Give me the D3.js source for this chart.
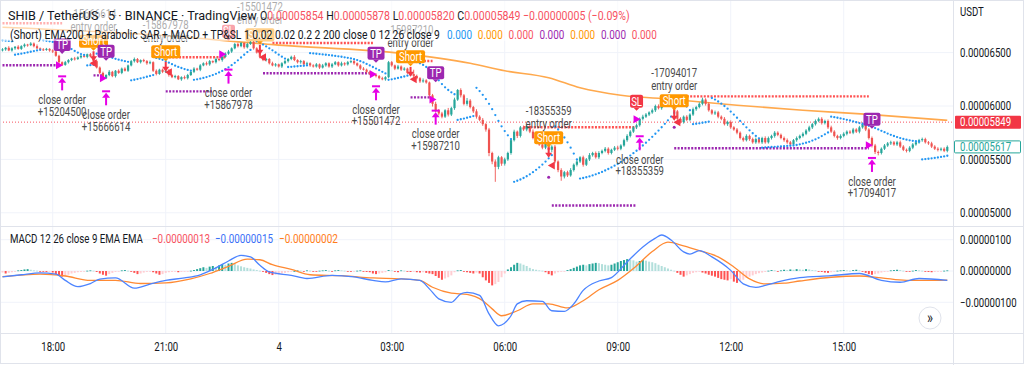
<!DOCTYPE html>
<html><head><meta charset="utf-8">
<script src="https://cdn.jsdelivr.net/npm/d3@7"></script>
<style>html,body{margin:0;padding:0;background:#fff;overflow:hidden}svg{display:block}</style>
</head><body><svg id="c" width="1024" height="365"></svg>
<script>
// ---------- DATA (prices in units of 1e-8 USDT) ----------
const open0 = 6520;
const closes = [
6530,6545,6520,6540,6555,6535,6560,6575,6570,6585,
6560,6540,6530,6525,6535,6520,6510,6470,6410,6385,
6410,6430,6445,6440,6455,6470,6460,6485,6465,6420,
6360,6310,6260,6290,6320,6280,6330,6310,6350,6330,
6380,6420,6440,6410,6430,6420,6400,6410,6330,6300,
6340,6320,6330,6290,6270,6280,6250,6270,6260,6290,
6320,6350,6340,6380,6400,6390,6420,6410,6440,6430,
6460,6490,6510,6540,6580,6560,6590,6550,6580,6600,
6540,6500,6460,6430,6440,6400,6380,6390,6370,6400,
6420,6440,6460,6430,6410,6420,6390,6400,6380,6370,
6390,6360,6380,6400,6370,6390,6410,6380,6400,6390,
6410,6420,6400,6380,6350,6340,6320,6300,6290,6280,
6260,6250,6270,6410,6380,6350,6370,6340,6350,6310,
6300,6280,6260,6230,6240,6220,6100,6020,5960,5930,
5900,5960,5920,5980,6060,6150,6100,6020,6050,5990,
5950,5900,5870,5830,5780,5560,5480,5430,5520,5460,
5500,5560,5680,5760,5720,5800,5780,5810,5760,5700,
5680,5640,5610,5650,5590,5620,5480,5400,5340,5380,
5350,5400,5450,5480,5520,5450,5500,5540,5560,5520,
5560,5580,5600,5560,5590,5610,5600,5630,5680,5720,
5760,5800,5820,5880,5900,5920,5940,5960,6000,5980,
6060,6080,6050,6070,5950,5880,5850,5900,5870,5920,
5970,5990,6020,6060,6020,5960,5930,5940,5900,5880,
5830,5850,5800,5780,5750,5700,5680,5720,5690,5660,
5690,5660,5700,5660,5700,5720,5750,5730,5700,5680,
5660,5640,5680,5700,5720,5740,5770,5800,5830,5860,
5880,5840,5860,5800,5760,5720,5700,5720,5740,5760,
5750,5780,5760,5800,5830,5780,5700,5630,5570,5560,
5600,5630,5650,5660,5640,5660,5620,5590,5580,5610,
5640,5660,5680,5690,5660,5650,5620,5600,5590,5600,
5580,5617];
const upWick = [
12,8,15,10,6,14,9,11,7,13,10,16,8,12,9,6,11,14,10,8,
12,9,7,15,10,8,13,6,11,9,14,10,12,8,16,9,7,13,10,12,
8,11,14,9,6,12,10,15,8,13,9,11,7,14,10,12,9,8,15,11,
10,13,8,12,9,16,11,7,14,10,8,12,15,9,11,13,10,6,12,9,
14,10,8,13,11,9,15,12,7,10,13,9,11,16,8,12,10,14,9,11,
12,8,14,10,9,13,11,7,15,10,12,9,13,8,11,14,10,12,9,16,
10,14,9,12,11,8,15,10,13,9,12,40,14,10,18,11,9,13,20,12,
15,10,22,13,18,9,16,12,25,14,11,20,13,17,10,15,12,19,14,11,
16,12,14,18,10,13,17,11,15,20,12,16,14,10,18,13,15,11,17,12,
14,18,12,16,10,15,13,19,11,14,17,12,16,13,10,15,18,12,14,16,
13,11,15,12,18,14,10,16,13,15,11,17,14,12,16,13,15,11,14,12,
16,12,14,18,13,15,11,17,14,12,16,13,15,11,14,12,13,15,12,14,
15,13,12,16,14,11,15,13,12,14,16,13,11,15,12,14,13,15,12,14,
13,15,12,14,16,13,11,15,14,12,13,15,12,14,16,13,12,14,15,13,
12,14,13,15,12,14,16,13,12,14,13,15,12,14,13,12,15,13,14,12,
13,14];
const dnWick = [
9,13,7,11,14,8,10,12,15,9,11,7,13,10,8,12,14,9,11,10,
8,12,10,14,9,11,7,13,10,15,9,12,14,8,11,10,13,9,12,7,
11,9,13,8,12,10,14,9,11,13,8,12,10,15,9,11,7,14,10,12,
9,12,10,14,8,11,13,9,12,10,15,8,11,13,9,12,10,14,11,8,
12,9,14,10,13,11,8,12,10,14,9,13,11,10,12,14,9,11,13,10,
10,13,9,12,11,14,8,12,10,13,11,9,14,10,12,8,13,11,10,12,
11,9,13,10,12,14,9,12,10,13,11,12,10,14,12,11,30,25,20,18,
15,12,18,14,16,12,20,14,17,13,15,18,12,16,20,30,25,140,22,20,
18,14,16,12,20,15,13,17,14,12,16,13,15,14,18,22,16,20,40,18,
15,12,14,16,13,18,12,15,14,13,16,12,14,15,13,12,16,14,12,15,
14,12,16,13,15,12,14,13,16,12,15,14,12,16,13,18,14,15,12,13,
13,15,12,14,16,13,12,14,15,13,12,16,14,12,15,13,14,12,16,13,
14,12,15,13,12,14,16,13,12,15,14,12,13,15,12,14,13,12,15,13,
12,14,13,15,12,14,16,12,13,15,12,14,13,16,12,15,14,18,20,22,
14,12,13,15,12,14,13,12,15,13,14,12,13,15,12,14,13,12,15,13,
12,14];
const sar = [
6615,6612,6609,6606,
6480,6485,6490,6496,6502,6508,6514,6520,
6526,
6615,6611,6606,6600,6593,6585,6575,6563,6549,6533,6516,6500,6486,6478,
6380,6382,6385,
6490,6484,6477,6469,6460,6451,6442,6434,6427,6420,6414,
6240,6246,6252,6259,6266,6274,6282,6290,
6450,6442,6432,6420,6406,6392,6378,6366,6356,6346,6338,6332,
6245,6250,6256,6263,6271,6280,6290,6301,6314,6328,6344,6362,6382,6404,6428,6454,6480,6505,6525,
6620,6606,6591,6575,6558,6540,6521,6501,6481,6462,6444,
6365,6367,6370,6372,6375,6377,6380,
6495,6492,6489,6486,6483,6480,6477,6473,6469,6465,6461,6456,6451,6445,6438,6430,6420,6408,6394,6380,6365,6350,6335,6320,6305,
6245,6250,6256,6262,6269,6276,6284,6292,
6420,6412,6400,6385,6365,6340,6310,6275,6240,6205,6175,6150,6128,6110,
5870,5876,5882,5890,5898,5906,
6170,6140,6105,6065,6020,5970,5915,5860,5810,5765,5725,5690,
5290,5300,5312,5326,5342,5360,5380,5402,5426,5452,5480,5510,5540,
5810,5780,5745,5705,5660,5610,5555,5500,
5320,5326,5333,5341,5350,5360,5371,5383,5396,5410,5425,5441,5458,5476,5495,5515,5536,5558,5581,5605,5630,5656,5683,5711,5740,5770,5801,5833,5866,5900,5935,
6085,6060,6030,5995,5960,
5830,5834,5838,5843,5848,5853,
6075,6060,6042,6022,6000,5975,5948,5920,5890,5860,5830,5800,5772,5745,5720,5697,
5610,5612,5614,5616,5618,5620,5622,5624,5626,5628,5630,5635,5641,5648,5656,5665,5676,5688,5702,5718,5735,
5752,
5900,5895,5890,5884,5878,5871,5864,5856,5848,5840,5832,5823,5814,5804,5793,5781,5768,5755,5742,5730,5719,5709,5700,5692,5685,5679,5674,5670,5666,
5500,5503,5506,5510,5514,5518,5523,5528,5534];
const emaBars = [0,50,88,127,149,160,174,184,197,213,234,255,276,301];
const emaVals = [6737,6662,6570,6493,6400,6330,6265,6170,6100,6063,6007,5960,5922,5866];
const macdBars = [0,6,12,17,20,24,28,31,36,42,47,52,58,63,68,72,76,79,82,85,92,97,105,112,118,122,127,133,136,139,143,146,148,152,155,158,162,164,167,172,175,179,182,185,190,194,199,204,208,210,213,217,219,222,226,232,236,240,243,247,254,264,273,280,286,292,301];
const macdVals = [-19,-12,-6,-10,-30,-50,-40,-26,-22,-55,-42,-30,-22,-12,10,32,50,45,18,-3,-14,-24,-14,-19,-30,-35,-25,-30,-57,-89,-100,-73,-68,-78,-137,-175,-143,-105,-95,-97,-127,-129,-105,-62,-32,-21,29,77,105,115,99,61,54,65,45,2,-41,-52,-46,-35,-21,-15,-8,-30,-36,-24,-30];
const sigBars = [0,12,20,28,36,44,52,60,66,72,78,82,86,92,98,108,118,127,133,137,143,148,153,156,159,164,169,174,180,185,190,196,201,207,212,217,222,228,233,238,243,249,254,264,273,280,288,294,301];
const sigVals = [-18,-10,-16,-30,-30,-40,-38,-25,-8,15,38,36,20,5,-12,-15,-22,-25,-30,-52,-71,-75,-95,-121,-143,-127,-105,-105,-118,-95,-60,-30,8,62,92,80,65,45,13,-25,-41,-39,-32,-20,-16,-22,-30,-30,-29];
const hist = [
-5,-8,-6,-4,-2,2,3,5,6,4,
2,1,-1,-2,-3,-2,-5,-10,-14,-18,
-16,-12,-8,-6,-4,-3,-2,1,2,1,
-3,-8,-12,-15,-10,-6,-3,-1,2,3,
1,-2,-6,-10,-8,-5,-3,-2,-4,-8,
-12,-10,-6,-4,-3,-2,-4,-3,-2,-1,
1,3,6,9,12,10,14,16,13,18,
22,20,24,26,22,18,15,12,10,8,
5,3,1,-2,-6,-10,-13,-12,-10,-8,
-6,-4,-2,0,2,1,-1,2,1,-1,
-2,1,2,3,1,-1,2,3,2,1,
-1,-2,-1,1,2,-1,-3,-4,-8,-10,
-8,-6,-4,3,2,-2,-4,2,1,-2,
-3,-3,-4,-5,-4,-6,-8,-10,-16,-22,
-28,-24,-20,-14,-4,2,3,-1,-4,-6,
-8,-5,-8,-20,-30,-38,-46,-42,-35,-20,
-8,5,12,20,26,24,20,16,10,6,
4,2,1,-4,-10,-14,-8,-4,-2,-1,
3,6,10,14,18,20,18,22,24,26,
25,22,20,18,20,24,28,32,35,38,
36,34,30,32,35,33,30,28,25,20,
16,12,8,4,1,-6,-12,-18,-14,-10,
-6,-4,-2,-5,-8,-12,-15,-18,-22,-26,
-28,-30,-26,-34,-38,-32,-28,-22,-18,-14,
-10,-7,-5,-3,1,3,2,-1,2,4,
3,5,4,6,5,4,6,5,3,2,
-1,-3,-5,-6,-4,-2,1,2,3,2,
1,3,4,2,-2,-6,-10,-12,-10,-8,
-5,-3,-1,2,3,4,3,1,-1,-2,
1,3,2,1,-1,-3,-4,-3,-2,-1,
1,2];
const timeTickBars = [16,52,88,124,160,196,232,268];
const timeTickLabels = ["18:00","21:00","4","03:00","06:00","09:00","12:00","15:00"];
const priceTicks = [5000,5500,6000,6500];
const macdTicks = [-100,0,100];
const lastPrice = 5849, sarLast = 5617;
// strategy marks
const markType  = ["TP","Short","TP","Short","SL","Short","TP","Short","TP","Short","SL","Short","TP"];
const markBar   = [19,29,33,52,72,82,119,130,138,174,202,214,277];
const markPrice = [6577,6606,6512,6507,6700,6667,6493,6460,6311,5702,6044,6049,5875];
const entryBar  = [29,52,82,130,174,214];
const entryText = ["-15666614","-15867978","-15501472","-15987210","-18355359","-17094017"];
const closeBar  = [19,33,72,119,138,203,277];
const closePrice= [6287,6147,6350,6194,5966,5726,5523];
const closeText = ["+15204500","+15666614","+15867978","+15501472","+15987210","+18355359","+17094017"];
const tpStart = [0,29,52,83,130,175,214], tpEnd = [18,32,67,118,136,202,276];
const tpLevel = [6381,6287,6137,6306,6081,5069,5604];
const slStart = [0,53,86,131,166,218], slEnd = [19,71,118,137,202,276];
const slLevel = [6775,6456,6590,6421,5801,6090];
const exitBar = [18,32,70,118,137,202,276], exitPrice = [6381,6259,6484,6297,6062,5875,5632];
const stopBar = [29,53,83,131,175,215], stopPrice = [6400,6315,6456,6250,5444,5847];
const dotBar = [174,214], dotPrice = [5332,5801];
const legendVals = ["0.000","0.000","0.000","0.000","0.000","0.000","0.000"];
const legendCols = ["#2196f3","#ff9800","#f7525f","#9c27b0","#ff9800","#9c27b0","#f7525f"];

// ---------- DRAW ----------
const FONT = 'Roboto, "Noto Sans", "DejaVu Sans", sans-serif';
const SX = 0.8;
const svg = d3.select('#c').attr('font-family', FONT);
svg.append('rect').attr('width',1024).attr('height',365).attr('fill','#fff');
const PR = 953, MB = 226, ST = 227, SB = 333;
const DARK = '#131722';

const x = d3.scaleLinear().domain([0, closes.length - 1]).range([2.5, 947.3]);
const y = d3.scaleLinear().domain([5000, 6500]).range([212.8, 52.6]);
const ym = d3.scaleLinear().domain([-100, 100]).range([302.3, 239.7]);

function txt(p, tx, ty, s, o = {}) {
  const t = p.append('text').attr('font-size', o.size || 12).attr('fill', o.fill || DARK)
    .attr('text-anchor', o.anchor || 'start').attr('dy', '0.35em').style('white-space', 'pre').text(s);
  let sx = SX;
  if (o.w) { const L = t.node().getComputedTextLength(); if (L > 0) sx = o.w / L; }
  t.attr('transform', `translate(${tx},${ty}) scale(${sx},1)`);
  return t;
}
function rich(p, tx, ty, parts, size, w) {
  const t = p.append('text').attr('font-size', size).attr('dy', '0.35em').style('white-space', 'pre');
  parts.forEach(([s, c]) => t.append('tspan').attr('fill', c).text(s));
  const L = t.node().getComputedTextLength();
  t.attr('transform', `translate(${tx},${ty}) scale(${w && L ? w / L : SX},1)`);
  return t;
}

const defs = svg.append('defs');
defs.append('clipPath').attr('id', 'cm').append('rect').attr('x', 0).attr('y', 0).attr('width', PR).attr('height', MB);
defs.append('clipPath').attr('id', 'cs').append('rect').attr('x', 0).attr('y', ST).attr('width', PR).attr('height', SB - ST);

// grid
const grid = svg.append('g').attr('stroke', '#f0f3fa').attr('stroke-width', 1);
timeTickBars.forEach(b => grid.append('line').attr('x1', x(b)).attr('x2', x(b)).attr('y1', 0).attr('y2', SB));
priceTicks.forEach(p => grid.append('line').attr('x1', 0).attr('x2', PR).attr('y1', y(p)).attr('y2', y(p)));
macdTicks.forEach(v => grid.append('line').attr('x1', 0).attr('x2', PR).attr('y1', ym(v)).attr('y2', ym(v)));

// main pane
const main = svg.append('g').attr('clip-path', 'url(#cm)');
main.append('line').attr('x1', 0).attr('x2', PR).attr('y1', y(lastPrice)).attr('y2', y(lastPrice))
  .attr('stroke', '#f7525f').attr('stroke-width', 1).attr('stroke-dasharray', '1,2');
tpLevel.forEach((v, k) => main.append('line').attr('x1', x(tpStart[k])).attr('x2', x(tpEnd[k])).attr('y1', y(v)).attr('y2', y(v))
  .attr('stroke', '#9c27b0').attr('stroke-width', 2.4).attr('stroke-dasharray', '2,1.4'));
slLevel.forEach((v, k) => main.append('line').attr('x1', x(slStart[k])).attr('x2', x(slEnd[k])).attr('y1', y(v)).attr('y2', y(v))
  .attr('stroke', '#ff5252').attr('stroke-width', 2.4).attr('stroke-dasharray', '2,1.4'));
main.append('path').datum(emaBars.map((b, k) => [b, emaVals[k]]))
  .attr('d', d3.line().x(d => x(d[0])).y(d => y(d[1])).curve(d3.curveMonotoneX))
  .attr('fill', 'none').attr('stroke', '#ffa94d').attr('stroke-width', 1.6);
const cg = main.append('g');
closes.forEach((c, i) => {
  const o = i === 0 ? open0 : closes[i - 1];
  const up = c >= o;
  const col = up ? '#26a69a' : '#ef5350';
  const hi = Math.max(o, c) + upWick[i], lo = Math.min(o, c) - dnWick[i];
  cg.append('line').attr('x1', x(i)).attr('x2', x(i)).attr('y1', y(hi)).attr('y2', y(lo)).attr('stroke', col).attr('stroke-width', 0.9);
  const top = y(Math.max(o, c)), bot = y(Math.min(o, c));
  cg.append('rect').attr('x', x(i) - 1.1).attr('width', 2.2).attr('y', top).attr('height', Math.max(0.9, bot - top)).attr('fill', col);
});
main.append('g').selectAll('circle').data(sar).join('circle')
  .attr('cx', (d, i) => x(i)).attr('cy', d => y(d)).attr('r', 1.15).attr('fill', '#2196f3');

// markers
const mk = main.append('g');
const markColor = { TP: '#9c27b0', Short: '#ff9800', SL: '#f23645' };
const markW = { TP: 17, Short: 29, SL: 13 };
markType.forEach((t, k) => {
  const xc = x(markBar[k]), yc = y(markPrice[k]);
  const g = mk.append('g');
  const w = markW[t], col = markColor[t];
  g.append('rect').attr('x', xc - w / 2).attr('y', yc - 6.5).attr('width', w).attr('height', 13).attr('rx', 2).attr('fill', col);
  g.append('path').attr('d', `M${xc - 3},${yc + 6.4}L${xc + 3},${yc + 6.4}L${xc},${yc + 9.5}Z`).attr('fill', col);
  txt(g, xc, yc, t, { size: 12, fill: '#fff', anchor: 'middle' });
  if (t === 'Short') {
    g.append('rect').attr('x', xc - 1).attr('y', yc + 10).attr('width', 2).attr('height', 6).attr('fill', '#f23645');
    g.append('path').attr('d', `M${xc - 3.5},${yc + 15}L${xc + 3.5},${yc + 15}L${xc},${yc + 20}Z`).attr('fill', '#f23645');
  }
});
entryBar.forEach((b, k) => {
  const mi = markBar.findIndex((mb, j) => mb === b && markType[j] === 'Short');
  const top = y(markPrice[mi]) - 6.5;
  txt(mk, x(b), top - 21, entryText[k], { size: 12, fill: '#4a4a4a', anchor: 'middle' });
  txt(mk, x(b), top - 8, 'entry order', { size: 12, fill: '#4a4a4a', anchor: 'middle' });
});
closeBar.forEach((b, k) => {
  const xc = x(b), t = y(closePrice[k]);
  const col = '#e600e6';
  mk.append('rect').attr('x', xc - 4).attr('y', t).attr('width', 8).attr('height', 2).attr('fill', col);
  mk.append('path').attr('d', `M${xc - 4},${t + 7.5}L${xc + 4},${t + 7.5}L${xc},${t + 2.5}Z`).attr('fill', col);
  mk.append('rect').attr('x', xc - 1).attr('y', t + 7).attr('width', 2).attr('height', 8).attr('fill', col);
  txt(mk, xc, t + 24.5, 'close order', { size: 12, fill: '#4a4a4a', anchor: 'middle' });
  txt(mk, xc, t + 36, closeText[k], { size: 12, fill: '#4a4a4a', anchor: 'middle' });
});
exitBar.forEach((b, k) => {
  const xc = x(b), yc = y(exitPrice[k]);
  mk.append('path').attr('d', `M${xc - 3},${yc - 4}L${xc + 4},${yc}L${xc - 3},${yc + 4}Z`).attr('fill', '#e600e6');
});
stopBar.forEach((b, k) => {
  const xc = x(b), yc = y(stopPrice[k]);
  mk.append('path').attr('d', `M${xc + 3},${yc - 4}L${xc - 4},${yc}L${xc + 3},${yc + 4}Z`).attr('fill', '#f23645');
});
dotBar.forEach((b, k) => mk.append('circle').attr('cx', x(b)).attr('cy', y(dotPrice[k])).attr('r', 1.5).attr('fill', '#9c27b0'));

// legend fade band
svg.append('rect').attr('x', 0).attr('y', 0).attr('width', 665).attr('height', 41).attr('fill', '#fff').attr('opacity', 0.55);

// MACD pane
const sub = svg.append('g').attr('clip-path', 'url(#cs)');
hist.forEach((v, i) => {
  const pv = i > 0 ? hist[i - 1] : v;
  const col = v >= 0 ? (v >= pv ? '#26a69a' : '#b2dfdb') : (v < pv ? '#ff5252' : '#ffcdd2');
  const a = ym(Math.max(0, v)), b = ym(Math.min(0, v));
  sub.append('rect').attr('x', x(i) - 1).attr('width', 2).attr('y', a).attr('height', Math.max(0.8, b - a)).attr('fill', col);
});
sub.append('path').datum(sigBars.map((b, k) => [b, sigVals[k]]))
  .attr('d', d3.line().x(d => x(d[0])).y(d => ym(d[1])).curve(d3.curveMonotoneX))
  .attr('fill', 'none').attr('stroke', '#ff8a33').attr('stroke-width', 1.3);
sub.append('path').datum(macdBars.map((b, k) => [b, macdVals[k]]))
  .attr('d', d3.line().x(d => x(d[0])).y(d => ym(d[1])).curve(d3.curveMonotoneX))
  .attr('fill', 'none').attr('stroke', '#4c84ff').attr('stroke-width', 1.3);

// separators / borders
const bd = svg.append('g').attr('stroke', '#e0e3eb').attr('stroke-width', 1);
bd.append('line').attr('x1', 0).attr('x2', 1024).attr('y1', MB + 0.5).attr('y2', MB + 0.5);
bd.append('line').attr('x1', 0).attr('x2', 1024).attr('y1', SB + 0.5).attr('y2', SB + 0.5);
bd.append('line').attr('x1', PR + 0.5).attr('x2', PR + 0.5).attr('y1', 0).attr('y2', 365);
bd.append('rect').attr('x', 0.5).attr('y', 0.5).attr('width', 1023).attr('height', 363).attr('fill', 'none');

// axes
const fmtP = d => (d / 1e8).toFixed(8).replace('-', '−');
function styleAxis(g, xOff) {
  g.select('.domain').remove();
  g.attr('font-family', FONT).attr('font-size', 12);
  g.selectAll('text').attr('fill', DARK);
  if (xOff !== undefined) g.selectAll('text').attr('x', xOff / SX).attr('transform', `scale(${SX},1)`);
  else g.selectAll('text').attr('transform', `scale(${SX},1)`);
}
const pax = svg.append('g').attr('transform', `translate(${PR},0)`)
  .call(d3.axisRight(y).tickValues(priceTicks).tickFormat(fmtP).tickSize(0).tickPadding(7));
styleAxis(pax, 7);
const max = svg.append('g').attr('transform', `translate(${PR},0)`)
  .call(d3.axisRight(ym).tickValues(macdTicks).tickFormat(fmtP).tickSize(0).tickPadding(7));
styleAxis(max, 7);
const tax = svg.append('g').attr('transform', `translate(0,${SB})`)
  .call(d3.axisBottom(x).tickValues(timeTickBars).tickFormat((d, i) => timeTickLabels[i]).tickSize(0).tickPadding(9.5));
styleAxis(tax);

// price labels
svg.append('rect').attr('x', 955).attr('y', y(lastPrice) - 6.5).attr('width', 66).attr('height', 13).attr('fill', '#f23645').attr('rx', 1);
txt(svg, 960, y(lastPrice), fmtP(lastPrice), { size: 12, fill: '#fff' });
svg.append('rect').attr('x', 954.5).attr('y', y(sarLast) - 6).attr('width', 66).attr('height', 12).attr('fill', '#fff').attr('stroke', '#26a69a').attr('rx', 1);
txt(svg, 960, y(sarLast), fmtP(sarLast), { size: 12, fill: '#26a69a' });
txt(svg, 960, 12, 'USDT', { size: 12 });

// header legend
rich(svg, 8, 15, [['SHIB / TetherUS · 5 · BINANCE · TradingView', DARK]], 13, 249);
rich(svg, 260, 15, [['O', DARK], ['0.00005854', '#f7525f'], [' H', DARK], ['0.00005878', '#f7525f'], [' L', DARK], ['0.00005820', '#f7525f'],
  [' C', DARK], ['0.00005849', '#f7525f'], [' −0.00000005 (−0.09%)', '#f7525f']], 13, 370);
rich(svg, 10, 34, [['(Short) EMA200 + Parabolic SAR + MACD + TP&SL 1 0.02 0.02 0.2 2 200 close 0 12 26 close 9', DARK]], 13, 430);
legendVals.forEach((v, k) => txt(svg, 447 + k * 30.8, 34, v, { size: 13, fill: legendCols[k], w: 25 }));
rich(svg, 10, 238, [['MACD 12 26 close 9 EMA EMA', DARK]], 13, 133);
txt(svg, 152, 238, '−0.00000013', { size: 13, fill: '#f7525f', w: 58 });
txt(svg, 215, 238, '−0.00000015', { size: 13, fill: '#3a6ff7', w: 58 });
txt(svg, 279, 238, '−0.00000002', { size: 13, fill: '#ff7d1a', w: 59 });

// scroll button
svg.append('circle').attr('cx', 930).attr('cy', 318).attr('r', 11).attr('fill', '#fff').attr('stroke', '#e0e3eb');
txt(svg, 930, 317, '»', { size: 16, anchor: 'middle' });
</script></body></html>
